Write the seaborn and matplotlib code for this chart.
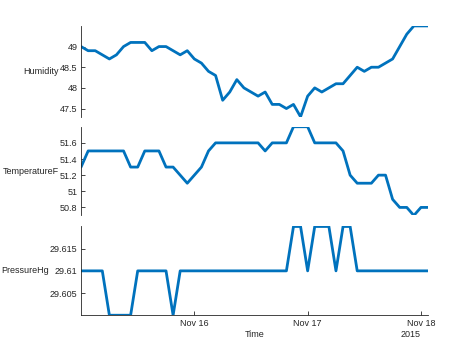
import pandas as pd
import matplotlib
matplotlib.use('Agg')
import matplotlib.pyplot as plt
import matplotlib.dates as mdates
from matplotlib.ticker import FormatStrFormatter
import seaborn as sns

# readings every 1.5 hours starting 2015-11-15 00:00:24
time = pd.date_range('2015-11-15 00:00:24', periods=50, freq='90min')

humidity = [49.0, 48.9, 48.9, 48.8, 48.7, 48.8, 49.0, 49.1, 49.1, 49.1,
            48.9, 49.0, 49.0, 48.9, 48.8, 48.9, 48.7, 48.6, 48.4, 48.3,
            47.7, 47.9, 48.2, 48.0, 47.9, 47.8, 47.9, 47.6, 47.6, 47.5,
            47.6, 47.3, 47.8, 48.0, 47.9, 48.0, 48.1, 48.1, 48.3, 48.5,
            48.4, 48.5, 48.5, 48.6, 48.7, 49.0, 49.3, 49.5, 49.5, 49.5]

temperature = [51.3, 51.5, 51.5, 51.5, 51.5, 51.5, 51.5, 51.3, 51.3, 51.5,
               51.5, 51.5, 51.3, 51.3, 51.2, 51.1, 51.2, 51.3, 51.5, 51.6,
               51.6, 51.6, 51.6, 51.6, 51.6, 51.6, 51.5, 51.6, 51.6, 51.6,
               51.8, 51.8, 51.8, 51.6, 51.6, 51.6, 51.6, 51.5, 51.2, 51.1,
               51.1, 51.1, 51.2, 51.2, 50.9, 50.8, 50.8, 50.7, 50.8, 50.8]

pressure = [29.61, 29.61, 29.61, 29.61, 29.60, 29.60, 29.60, 29.60, 29.61, 29.61,
            29.61, 29.61, 29.61, 29.60, 29.61, 29.61, 29.61, 29.61, 29.61, 29.61,
            29.61, 29.61, 29.61, 29.61, 29.61, 29.61, 29.61, 29.61, 29.61, 29.61,
            29.62, 29.62, 29.61, 29.62, 29.62, 29.62, 29.61, 29.62, 29.62, 29.61,
            29.61, 29.61, 29.61, 29.61, 29.61, 29.61, 29.61, 29.61, 29.61, 29.61]

variables = ['Humidity', 'TemperatureF', 'PressureHg']
yticks = [[47.5, 48, 48.5, 49],
          [50.8, 51, 51.2, 51.4, 51.6],
          [29.605, 29.61, 29.615]]
ylims = [(47.3, 49.5), (50.7, 51.8), (29.60, 29.62)]
xtick_dates = ['2015-11-16', '2015-11-17', '2015-11-18']

df = pd.DataFrame({'Time': time, 'Humidity': humidity,
                   'TemperatureF': temperature, 'PressureHg': pressure})

sns.set_style('white')
plt.rcParams['font.family'] = ['Liberation Sans', 'DejaVu Sans']
plt.rcParams['font.size'] = 6.5
text_color = '#262626'

fig = plt.figure(figsize=(4.74, 3.55), dpi=100)
positions = [[0.171, 0.671, 0.732, 0.256],
             [0.171, 0.393, 0.732, 0.250],
             [0.171, 0.112, 0.732, 0.250]]

axes = []
for i, var in enumerate(variables):
    ax = fig.add_axes(positions[i])
    sns.lineplot(data=df, x='Time', y=var, ax=ax, color='#0072BD', linewidth=2)
    ax.set_xlim(time[0], time[-1])
    ax.set_ylim(*ylims[i])
    ax.set_yticks(yticks[i])
    ax.yaxis.set_major_formatter(FormatStrFormatter('%g'))
    ax.set_ylabel(var, rotation=0, ha='right', va='center', labelpad=1, color=text_color)
    ax.tick_params(axis='y', direction='in', length=3, width=0.6, pad=2.5,
                   colors=text_color, left=True)
    for side in ['top', 'right', 'bottom']:
        ax.spines[side].set_visible(False)
    ax.spines['left'].set_color(text_color)
    ax.spines['left'].set_linewidth(0.6)
    ax.patch.set_alpha(0)
    axes.append(ax)

for ax in axes[:2]:
    ax.xaxis.set_visible(False)

ax = axes[-1]
ax.spines['bottom'].set_visible(True)
ax.spines['bottom'].set_color(text_color)
ax.spines['bottom'].set_linewidth(0.6)
ax.set_xticks([pd.Timestamp(d) for d in xtick_dates])
ax.xaxis.set_major_formatter(mdates.DateFormatter('%b %d'))
ax.tick_params(axis='x', direction='in', length=3, width=0.6, pad=3,
               colors=text_color, bottom=True)
ax.set_xlabel('Time', color=text_color, labelpad=1)
ax.annotate('2015', xy=(mdates.date2num(pd.Timestamp(xtick_dates[-1])), 0),
            xycoords=('data', 'axes fraction'), xytext=(0, -14),
            textcoords='offset points', ha='right', va='center', color=text_color)

fig.savefig('out.png', dpi=100)
